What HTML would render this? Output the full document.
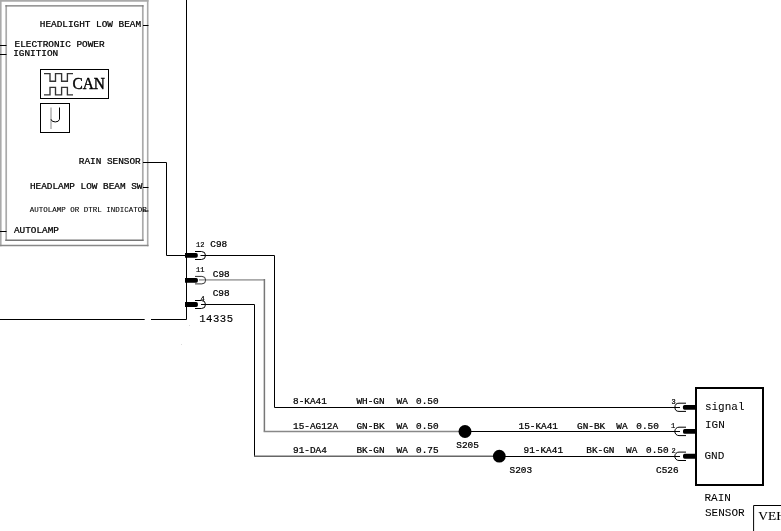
<!DOCTYPE html>
<html><head><meta charset="utf-8">
<style>
html,body{margin:0;padding:0;background:#fff;}
body{width:781px;height:531px;overflow:hidden;position:relative;}
svg{position:absolute;left:0;top:0;will-change:transform;}
text{font-family:"Liberation Mono",monospace;fill:#000;stroke:#000;stroke-width:0.25px;}
.m{font-size:9.4px;}
.s{font-size:7.5px;stroke-width:0.1px;}
.t{font-size:7px;stroke-width:0.2px;}
.b{font-size:11px;stroke-width:0.05px;}

</style></head><body>
<svg width="781" height="531" viewBox="0 0 781 531">
<g fill="none" stroke-linecap="butt">
<path d="M0.8 0V246.2 M147.7 0V246.2" stroke="#aaa" stroke-width="1.6"/>
<path d="M0 0.85H148.5" stroke="#aaa" stroke-width="1.7"/><path d="M0 245.5H148.5" stroke="#888" stroke-width="1.4"/>
<path d="M6.2 5.2V241 M142.8 5.2V241" stroke="#aaa" stroke-width="1.7"/>
<path d="M5.3 5.9H143.6 M5.3 240.3H143.6" stroke="#777" stroke-width="1.4"/>
<path d="M143 25.5H148.5 M0 45.5H6.5 M0 54.5H6.5 M143 187.5H148.5 M143 211H148.5 M0 231.5H6.5" stroke="#000" stroke-width="1"/>
<path d="M143 162.5H166.5V255.5H186" stroke="#000" stroke-width="1"/>
<path d="M186.5 0V319.5H151 M144.7 319.5H0" stroke="#000" stroke-width="1"/>
<rect x="40.5" y="69.5" width="68" height="29" stroke="#000" stroke-width="1"/>
<path d="M44 73.6H50V81.2H55.5V73.6H61.6V81.2H67.4V73.6H73 M44 94.8H50V87.3H55.5V94.8H61.6V87.3H67.4V94.8H73" stroke="#333" stroke-width="1.35"/>
<rect x="40.5" y="103.5" width="29" height="29" stroke="#000" stroke-width="1"/>
<path d="M51 107.5V129" stroke="#888" stroke-width="1"/>
<path d="M59.5 107.5V119.3 A4.3 3.1 0 0 1 51 119.3" stroke="#000" stroke-width="1"/>
<path d="M200.5 255.5H274.5V407.5H680" stroke="#000" stroke-width="1"/>
<path d="M199 279.8H264.4" stroke="#aaa" stroke-width="1.8"/>
<path d="M264.4 279V431.4" stroke="#777" stroke-width="1.5"/>
<path d="M263.6 431.4H465" stroke="#888" stroke-width="1.5"/>
<path d="M465 431.5H680" stroke="#000" stroke-width="1"/>
<path d="M201 304.5H254.5V456" stroke="#000" stroke-width="1"/>
<path d="M254 456.3H499" stroke="#666" stroke-width="1.5"/>
<path d="M499 456.5H680" stroke="#000" stroke-width="1"/>
<circle cx="465" cy="431.5" r="6.5" fill="#000"/>
<circle cx="499.3" cy="456.2" r="6.4" fill="#000"/>
<path d="M185 253H196.10000000000002A1.7 1.7 0 0 1 197.8 254.7V256.1A1.7 1.7 0 0 1 196.10000000000002 257.8H185Z M185 277.9H196.20000000000002A1.7 1.7 0 0 1 197.9 279.59999999999997V281.0A1.7 1.7 0 0 1 196.20000000000002 282.7H185Z M185 302.1H196.20000000000002A1.7 1.7 0 0 1 197.9 303.8V305.2A1.7 1.7 0 0 1 196.20000000000002 306.9H185Z" fill="#000"/>
<path d="M195 251.5H201.5A4 4 0 0 1 201.5 259.5H195" stroke="#000" stroke-width="1"/>
<path d="M195 276.4H201.9A3.75 3.75 0 0 1 201.9 283.9H195" stroke="#333" stroke-width="1"/>
<path d="M195 300.5H201.5A4 4 0 0 1 201.5 308.5H195" stroke="#000" stroke-width="1"/>
<path d="M696 387V486 M763 387V486 M695 388H764 M695 485H764" stroke="#000" stroke-width="2"/>
<path d="M695.5 404.9H684.6A1.7 1.7 0 0 0 682.9 406.59999999999997V408.1A1.7 1.7 0 0 0 684.6 409.8H695.5Z M695.5 428.95H684.7A1.7 1.7 0 0 0 683 430.65V432.15000000000003A1.7 1.7 0 0 0 684.7 433.85H695.5Z M695.5 453.85H684.7A1.7 1.7 0 0 0 683 455.55V457.05A1.7 1.7 0 0 0 684.7 458.75H695.5Z" fill="#000"/>
<path d="M686 403.2H679A4.1 4.1 0 0 0 679 411.4H686 M686 427.2H679A4.1 4.1 0 0 0 679 435.6H686 M686 452.1H679A4.1 4.1 0 0 0 679 460.5H686" stroke="#000" stroke-width="1"/>
<path d="M753.6 531V505.5H781" stroke="#000" stroke-width="1"/>
<rect x="189" y="325" width="1" height="1" fill="#ddd"/>
<rect x="181" y="344" width="1" height="1" fill="#ddd"/>
</g>

<text style="font-family:'Liberation Serif';font-size:17.4px;stroke-width:0.45px" transform="translate(72.4 88.5) scale(0.885 1)">CAN</text>
<text style="font-size:10.6px;letter-spacing:0.53px;stroke-width:0.15px" x="199.2" y="321.9">14335</text>
<text style="font-family:'Liberation Serif';font-size:13.4px;stroke-width:0.1px" x="758.3" y="519.7">VEH</text>

<text class="m" transform="translate(39.80 26.80) scale(1 0.91)">HEADLIGHT LOW BEAM</text>
<text class="m" transform="translate(14.50 47.00) scale(1 0.91)">ELECTRONIC POWER</text>
<text class="m" transform="translate(13.20 55.80) scale(1 0.91)">IGNITION</text>
<text class="m" transform="translate(78.80 164.00) scale(1 0.91)">RAIN SENSOR</text>
<text class="m" transform="translate(29.90 188.80) scale(1 0.91)">HEADLAMP LOW BEAM SW</text>
<text class="s" transform="translate(29.80 212.00) scale(1 0.93)">AUTOLAMP OR DTRL INDICATOR</text>
<text class="m" transform="translate(13.90 233.00) scale(1 0.91)">AUTOLAMP</text>
<text class="t" x="196.00" y="247.00">12</text>
<text class="m" transform="translate(210.30 247.00) scale(1 0.91)">C98</text>
<text class="t" x="196.00" y="271.80">11</text>
<text class="m" transform="translate(212.80 276.60) scale(1 0.91)">C98</text>
<text class="m" transform="translate(212.70 296.00) scale(1 0.91)">C98</text>
<text class="t" x="200.60" y="301.20">4</text>
<text class="m" transform="translate(293.00 404.00) scale(1 0.91)">8-KA41</text>
<text class="m" transform="translate(356.40 404.00) scale(1 0.91)">WH-GN</text>
<text class="m" transform="translate(396.60 404.00) scale(1 0.91)">WA</text>
<text class="m" transform="translate(416.00 404.00) scale(1 0.91)">0.50</text>
<text class="m" transform="translate(293.00 429.00) scale(1 0.91)">15-AG12A</text>
<text class="m" transform="translate(356.40 429.00) scale(1 0.91)">GN-BK</text>
<text class="m" transform="translate(396.60 429.00) scale(1 0.91)">WA</text>
<text class="m" transform="translate(416.00 429.00) scale(1 0.91)">0.50</text>
<text class="m" transform="translate(293.00 453.00) scale(1 0.91)">91-DA4</text>
<text class="m" transform="translate(356.40 453.00) scale(1 0.91)">BK-GN</text>
<text class="m" transform="translate(396.60 453.00) scale(1 0.91)">WA</text>
<text class="m" transform="translate(416.00 453.00) scale(1 0.91)">0.75</text>
<text class="m" transform="translate(456.30 447.70) scale(1 0.91)">S205</text>
<text class="m" transform="translate(518.50 429.20) scale(1 0.91)">15-KA41</text>
<text class="m" transform="translate(577.00 429.20) scale(1 0.91)">GN-BK</text>
<text class="m" transform="translate(616.30 429.20) scale(1 0.91)">WA</text>
<text class="m" transform="translate(636.30 429.20) scale(1 0.91)">0.50</text>
<text class="t" x="671.00" y="427.80">1</text>
<text class="m" transform="translate(523.60 453.00) scale(1 0.91)">91-KA41</text>
<text class="m" transform="translate(586.30 453.00) scale(1 0.91)">BK-GN</text>
<text class="m" transform="translate(626.10 453.00) scale(1 0.91)">WA</text>
<text class="m" transform="translate(646.00 453.00) scale(1 0.91)">0.50</text>
<text class="t" x="671.50" y="452.60">2</text>
<text class="t" x="671.50" y="404.00">3</text>
<text class="m" transform="translate(509.50 473.20) scale(1 0.91)">S203</text>
<text class="m" transform="translate(656.00 473.20) scale(1 0.91)">C526</text>
<text class="b" x="704.90" y="409.80">signal</text>
<text class="b" x="705.00" y="428.20">IGN</text>
<text class="b" x="704.50" y="459.30">GND</text>
<text class="b" x="704.50" y="500.80">RAIN</text>
<text class="b" x="705.00" y="515.90">SENSOR</text>
</svg>
</body></html>
